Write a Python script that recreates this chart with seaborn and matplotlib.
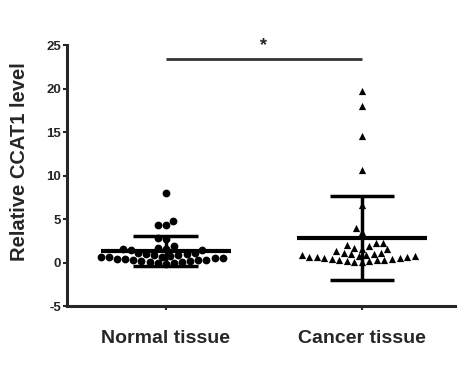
import numpy as np
import pandas as pd
import matplotlib
matplotlib.use("Agg")
import matplotlib.pyplot as plt
import seaborn as sns

# data
groups = ["Normal tissue", "Cancer tissue"]
normal_vals = [8.0, 4.8, 4.3, 4.3, 2.8, 2.7, 1.9, 1.7, 1.6, 1.6, 1.5, 1.5, 1.0,
               -0.1, -0.05, 0.0, 0.05, 0.1, 0.15, 0.2, 0.25, 0.3, 0.35, 0.4, 0.45,
               0.5, 0.55, 0.6, 0.65, 0.7, 0.8, 0.85, 0.9, 1.0, 1.05, 1.1]
cancer_vals = [19.7, 18.0, 14.6, 10.6, 6.6, 4.0, 3.5,
               2.3, 2.3, 2.0, 1.9, 1.7, 1.6, 1.6, 1.3, 1.1, 1.1,
               1.0, 0.95, 0.9, 0.85, 0.8, 0.75, 0.7, 0.65, 0.6, 0.55, 0.5,
               0.45, 0.4, 0.35, 0.3, 0.25, 0.2, 0.15, 0.1, 0.05]
y_ticks = [-5, 0, 5, 10, 15, 20, 25]

sns.set_style("ticks")
plt.rcParams["font.family"] = ["Liberation Sans", "DejaVu Sans"]
plt.rcParams["font.weight"] = "bold"
plt.rcParams["axes.unicode_minus"] = False

df_n = pd.DataFrame({"group": groups[0], "val": normal_vals})
df_c = pd.DataFrame({"group": groups[1], "val": cancer_vals})

fig = plt.figure(figsize=(4.74, 3.72), dpi=100)
ax = fig.add_axes([0.141, 0.177, 0.819, 0.702])

sns.swarmplot(data=df_n, x="group", y="val", order=groups, color="black",
              marker="o", size=5.6, ax=ax, zorder=3)
sns.swarmplot(data=df_c, x="group", y="val", order=groups, color="black",
              marker="^", size=5.2, ax=ax, zorder=3)

# mean +/- SD
for i, vals in enumerate([normal_vals, cancer_vals]):
    m = np.mean(vals)
    s = np.std(vals, ddof=1)
    ax.hlines(m, i - 0.33, i + 0.33, color="black", lw=3, zorder=4)
    ax.vlines(i, m - s, m + s, color="black", lw=2.5, zorder=4)
    ax.hlines([m - s, m + s], i - 0.165, i + 0.165, color="black", lw=2.5, zorder=4)

# significance bar
ax.plot([0, 1], [23.4, 23.4], color="#333333", lw=2, solid_capstyle="butt")
ax.text(0.5, 24.0, "*", ha="center", va="bottom", fontsize=13, fontweight="bold", clip_on=False)

ax.set_xlim(-0.505, 1.475)
ax.set_ylim(-5, 25)
ax.set_yticks(y_ticks)
ax.set_xlabel("")
ax.set_ylabel("Relative CCAT1 level", fontsize=14.5, fontweight="bold")
ax.yaxis.set_label_coords(-0.098, 0.555)
ax.tick_params(axis="y", labelsize=9.5, width=1.5, length=3, pad=1)
ax.tick_params(axis="x", labelsize=14, width=1.5, length=3, pad=14)
for lab in ax.get_xticklabels() + ax.get_yticklabels():
    lab.set_fontweight("bold")
sns.despine(ax=ax)
ax.spines["left"].set_linewidth(2.2)
ax.spines["bottom"].set_linewidth(2.2)

fig.savefig("out.png", dpi=100)
